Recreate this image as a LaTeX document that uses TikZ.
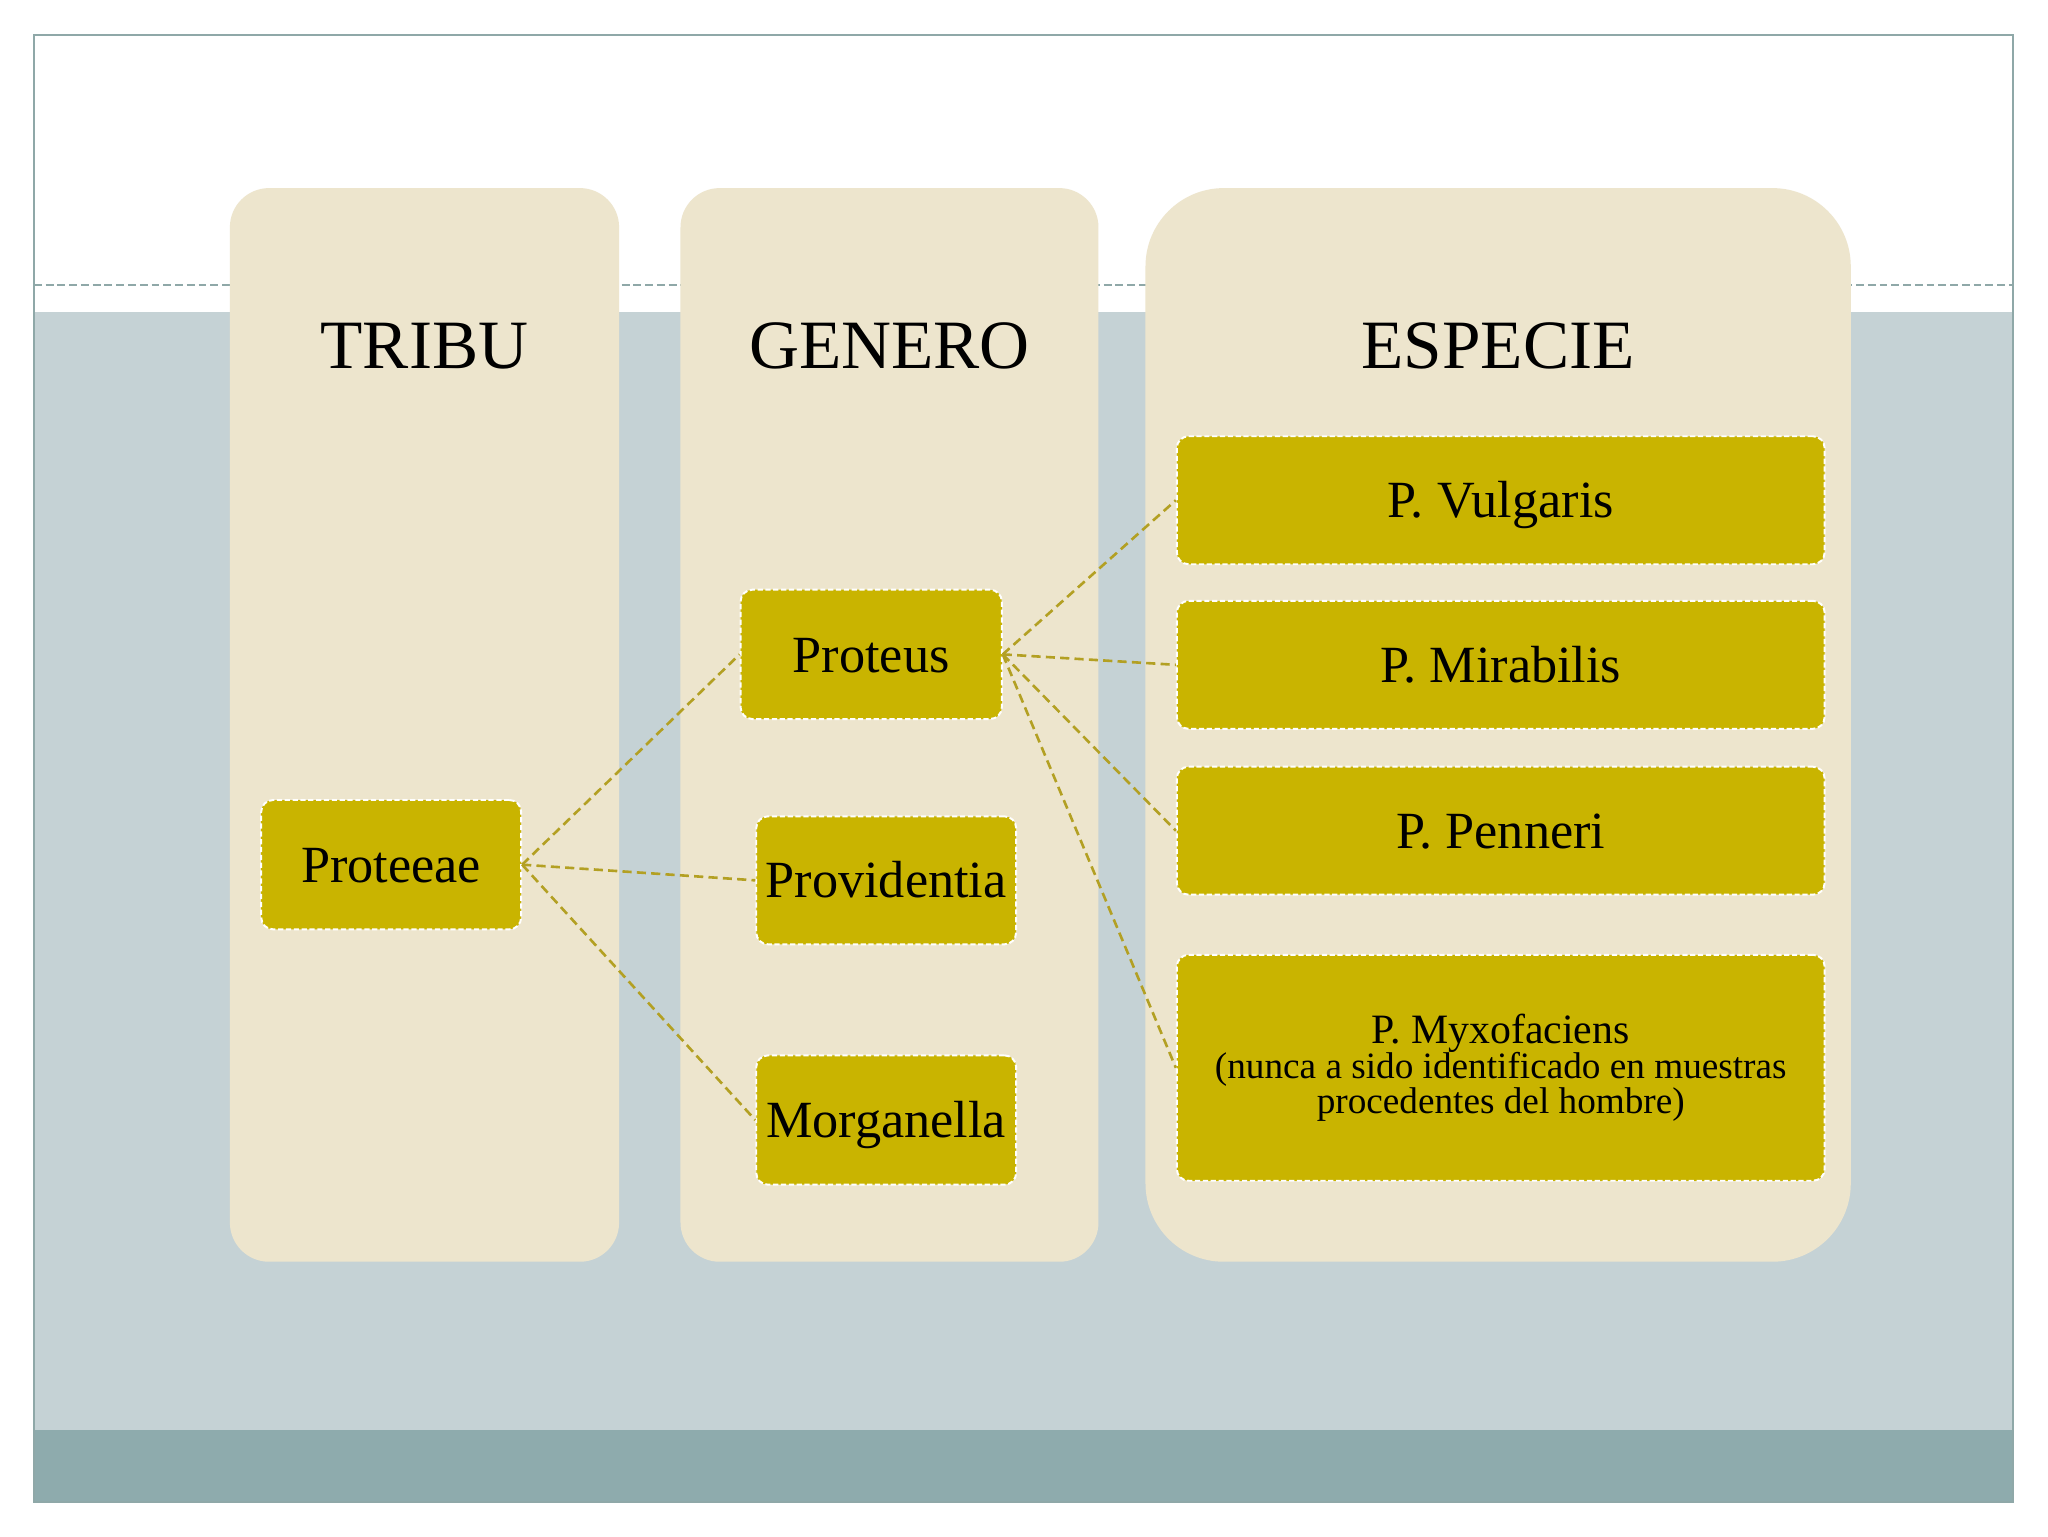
\documentclass[tikz,border=0pt]{standalone}
\usepackage{fontspec}
\setmainfont{Liberation Serif}
\definecolor{beige}{HTML}{EDE5CD}
\definecolor{olivebox}{HTML}{C9B400}
\definecolor{linkc}{HTML}{B3A023}
\definecolor{bgblue}{HTML}{C5D2D5}
\definecolor{bandc}{HTML}{8EABAD}
\definecolor{framec}{HTML}{8FA8A8}
\begin{document}
\begin{tikzpicture}[x=1pt,y=-1pt,
  colbox/.style={rectangle, fill=beige, draw=none, inner sep=0pt},
  head/.style={font=\fontsize{53}{60}\selectfont, text=black, inner sep=0pt},
  leafbox/.style={rectangle, rounded corners=9pt, fill=olivebox, draw=white,
    line width=1.5pt, dash pattern=on 4pt off 2pt, inner sep=0pt, text=black},
  leaf/.style={leafbox, font=\fontsize{40}{48}\selectfont, text height=27pt, text depth=0pt},
  link/.style={draw=linkc, line width=2pt, dash pattern=on 7pt off 4pt}
]
\useasboundingbox (0,0) rectangle (1568,1176);
% background
\fill[white] (0,0) rectangle (1568,1176);
\fill[bgblue] (26,239) rectangle (1541,1095);
\fill[bandc] (26,1095) rectangle (1541,1150);
\draw[framec, line width=1.2pt, dash pattern=on 6pt off 3pt] (26,218) -- (1541,218);
\draw[framec, line width=1.5pt] (26,27) rectangle (1541,1150);
% columns
\node[colbox, minimum width=298pt, minimum height=822pt, rounded corners=30pt] (c1) at (325,555) {};
\node[colbox, minimum width=320pt, minimum height=822pt, rounded corners=30pt] (c2) at (681,555) {};
\node[colbox, minimum width=540pt, minimum height=822pt, rounded corners=60pt] (c3) at (1147,555) {};
% headers
\node[head] (h1) at (325,265) {TRIBU};
\node[head] (h2) at (681,265) {GENERO};
\node[head] (h3) at (1147,265) {ESPECIE};
% boxes
\node[leaf, minimum width=199pt, minimum height=99pt] (proteeae) at (299.5,662) {Proteeae};
\node[leaf, minimum width=200pt, minimum height=99pt] (proteus) at (667,501) {Proteus};
\node[leaf, minimum width=199pt, minimum height=98pt] (providentia) at (678.5,674) {Providentia};
\node[leaf, minimum width=199pt, minimum height=99pt] (morganella) at (678.5,857.5) {Morganella};
\node[leaf, minimum width=496pt, minimum height=98pt] (vulgaris) at (1149,383) {P. Vulgaris};
\node[leaf, minimum width=496pt, minimum height=98pt] (mirabilis) at (1149,509) {P. Mirabilis};
\node[leaf, minimum width=496pt, minimum height=98pt] (penneri) at (1149,636) {P. Penneri};
\node[leafbox, minimum width=496pt, minimum height=173pt, align=center,
  font=\fontsize{28.5}{27}\selectfont] (myxo) at (1149,817.5)
  {{\fontsize{32}{30}\selectfont P. Myxofaciens}\\(nunca a sido identificado en muestras\\procedentes del hombre)};
% connectors
\draw[link] (proteeae.east) -- (proteus.west);
\draw[link] (proteeae.east) -- (providentia.west);
\draw[link] (proteeae.east) -- (morganella.west);
\draw[link] (proteus.east) -- (vulgaris.west);
\draw[link] (proteus.east) -- (mirabilis.west);
\draw[link] (proteus.east) -- (penneri.west);
\draw[link] (proteus.east) -- (myxo.west);
\end{tikzpicture}
\end{document}
